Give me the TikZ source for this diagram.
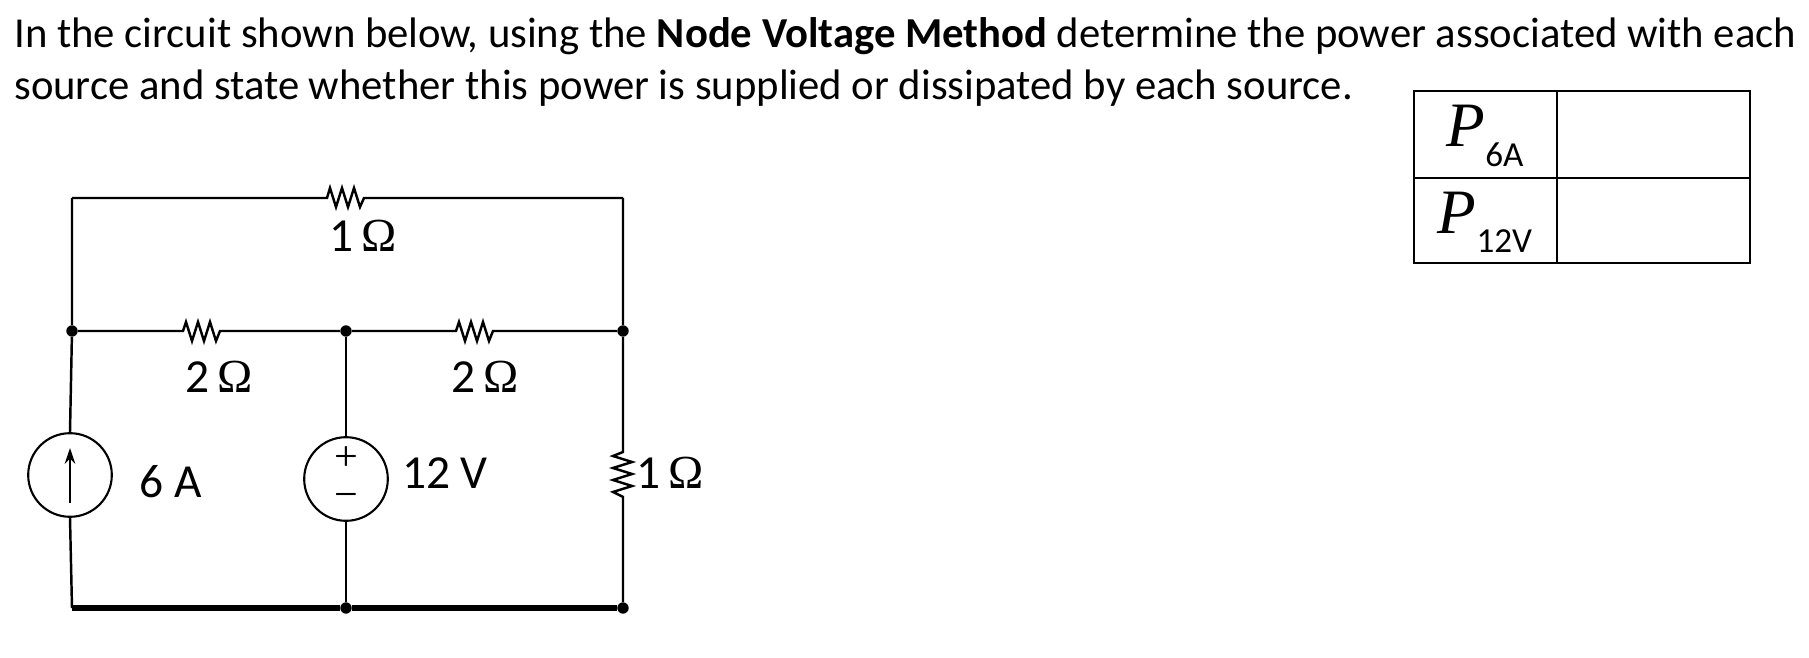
\documentclass[tikz,border=0pt]{standalone}
\usepackage{fontspec}
\usetikzlibrary{calc,arrows.meta}
\setmainfont{Carlito}
\newfontfamily\serifom{Liberation Serif}
\begin{document}
\begin{tikzpicture}[x=0.02cm,y=-0.02cm,
  wire/.style={line width=1.4pt},
  dot/.style={circle,fill=black,inner sep=0pt,minimum size=6.5pt},
  src/.style={circle,draw,line width=1.2pt,minimum size=47.6pt,inner sep=0pt},
  lbl/.style={font=\fontsize{27}{30}\selectfont},
  body/.style={font=\fontsize{24.3}{28}\selectfont,anchor=base west,inner sep=0pt}]
\useasboundingbox (0,0) rectangle (1809,658);
\node[body] (t1) at (14,48) {In the circuit shown below, using the \textbf{Node Voltage Method} determine the power associated with each};
\node[body] (t2) at (14,100) {source and state whether this power is supplied or dissipated by each source.};
% nodes
\coordinate (TL) at (72,198); \coordinate (TR) at (623,198);
\node[dot] (A) at (72,331) {}; \node[dot] (B) at (346,331) {}; \node[dot] (C) at (623,331) {};
\node[dot] (D) at (346,608) {}; \node[dot] (E) at (623,608) {};
\coordinate (BL) at (72,608);
\node[src] (I) at (70,475) {};
\node[src] (V) at (346,479) {};
\node at ($(V)+(0,-20)$) {\fontsize{24}{24}\selectfont\serifom +};
\node at ($(V)+(0,22)$) {\fontsize{24}{24}\selectfont\serifom −};
\draw[line width=1.2pt,-{Stealth[length=9pt,width=6pt]}] ($(I)+(0,28)$) -- ($(I)+(0,-27)$);
% wires with resistors
\draw[wire] (TL) -- (327,198) -- (330,188) -- (336,207) -- (342,188) -- (348,207) -- (354,188) -- (360,207) -- (364,198) -- (TR);
\draw[wire] (A) -- (183,331) -- (186,322) -- (192,341) -- (198,322) -- (204,341) -- (210,322) -- (216,341) -- (220,331) -- (B);
\draw[wire] (B) -- (456,331) -- (459,322) -- (465,341) -- (471,322) -- (477,341) -- (483,322) -- (489,341) -- (493,331) -- (C);
\draw[wire] (TL) -- (A) -- (I.north);
\draw[wire] (I.south) -- (BL);
\draw[wire] (TR) -- (C) -- (623,452) -- (613,456) -- (632,462) -- (613,468) -- (632,474) -- (613,480) -- (632,486) -- (613,492) -- (623,497) -- (E);
\draw[wire] (B) -- (V.north); \draw[wire] (V.south) -- (D);
\draw[line width=3.5pt] (BL) -- (D) -- (E);
\node[lbl] (r1) at (363,236) {1\,{\serifom Ω}};
\node[lbl] (r2) at (219,377) {2\,{\serifom Ω}};
\node[lbl] (r3) at (485,377) {2\,{\serifom Ω}};
\node[lbl] (l6) at (171,482) {6 A};
\node[lbl] (l12) at (445,473) {12 V};
\node[lbl] (r4) at (670,473) {1\,{\serifom Ω}};
% table
\draw[line width=1.2pt] (1414,91) rectangle (1750,263);
\draw[line width=1.2pt] (1414,178) -- (1750,178) (1557,91) -- (1557,263);
\node (p1) at (1485,136) {\fontsize{36}{38}\selectfont{\serifom\itshape P}\raisebox{-11pt}{\fontsize{20}{22}\selectfont 6A}};
\node (p2) at (1485,222) {\fontsize{36}{38}\selectfont{\serifom\itshape P}\raisebox{-11pt}{\fontsize{20}{22}\selectfont 12V}};
\end{tikzpicture}
\end{document}
